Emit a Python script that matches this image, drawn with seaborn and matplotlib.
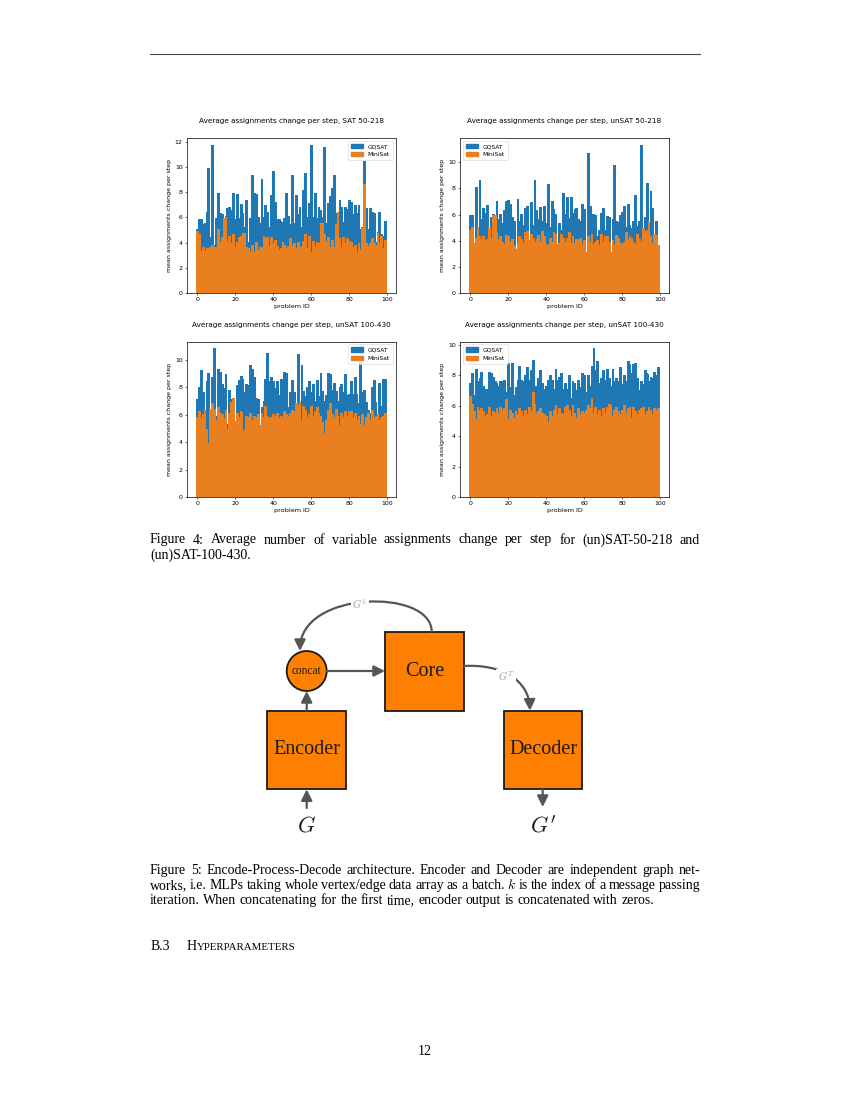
import matplotlib
matplotlib.use("Agg")
import matplotlib.pyplot as plt
import seaborn as sns
import numpy as np
from matplotlib.patches import Rectangle, Circle, FancyArrowPatch, Patch
from matplotlib.path import Path

# ---- data (problem ID 0..99) ----
problem_ids = list(range(100))

sat50_gqsat = [5.0, 5.85, 5.85, 5.4, 5.5, 6.4, 9.85, 4.4, 11.7, 3.8,
               5.9, 7.85, 6.3, 6.2, 5.6, 6.1, 6.7, 6.75, 6.5, 7.85,
               5.8, 7.8, 5.9, 7.0, 6.3, 5.2, 7.3, 4.0, 5.9, 9.35,
               7.9, 7.8, 6.0, 5.5, 9.0, 6.0, 6.9, 6.4, 5.2, 7.7,
               9.6, 7.2, 5.8, 5.8, 5.7, 5.6, 5.9, 7.9, 6.1, 5.4,
               9.35, 5.5, 7.7, 6.2, 6.8, 5.2, 8.1, 9.5, 6.0, 7.1,
               11.7, 6.0, 7.9, 5.9, 6.8, 6.5, 6.0, 11.5, 5.5, 7.1,
               7.65, 8.3, 9.3, 6.3, 5.8, 7.3, 6.8, 5.6, 6.8, 6.6,
               7.35, 7.2, 6.2, 6.9, 6.3, 6.9, 5.0, 5.2, 10.4, 6.7,
               5.0, 6.7, 6.4, 6.3, 4.0, 4.8, 6.4, 4.6, 4.5, 5.7]
sat50_minisat = [4.9, 4.6, 3.3, 3.6, 3.3, 3.5, 3.5, 3.6, 3.8, 3.6,
                 3.6, 5.0, 4.0, 4.4, 5.9, 6.0, 4.1, 4.5, 3.9, 4.6,
                 3.6, 4.0, 4.4, 4.5, 4.7, 4.7, 3.6, 3.5, 3.3, 3.8,
                 3.2, 4.0, 3.4, 3.6, 3.6, 4.5, 4.3, 4.4, 3.7, 4.4,
                 3.9, 4.2, 3.7, 3.4, 3.5, 4.0, 3.8, 3.5, 3.7, 4.3,
                 3.8, 3.9, 3.5, 4.0, 3.6, 3.7, 4.1, 4.6, 3.5, 4.5,
                 3.2, 4.1, 3.6, 4.0, 3.9, 5.5, 5.5, 4.6, 4.0, 4.4,
                 3.6, 4.2, 3.6, 5.4, 6.4, 4.3, 3.6, 4.4, 3.9, 4.3,
                 4.1, 4.0, 3.6, 3.8, 3.2, 3.9, 3.4, 5.1, 8.6, 3.9,
                 3.7, 3.9, 4.3, 3.9, 3.8, 4.7, 3.9, 4.5, 3.5, 4.2]

unsat50_gqsat = [5.95, 5.95, 3.8, 8.1, 5.0, 8.65, 5.6, 6.45, 6.1, 6.7,
                 4.9, 5.8, 6.0, 5.9, 7.0, 5.6, 6.0, 5.3, 6.3, 7.0,
                 7.1, 6.8, 5.8, 5.5, 3.3, 7.15, 5.5, 6.0, 5.2, 6.5,
                 6.65, 4.0, 6.9, 5.2, 8.6, 6.3, 5.6, 6.55, 5.5, 6.6,
                 5.3, 8.3, 5.0, 7.0, 6.4, 6.0, 3.7, 5.3, 4.8, 7.6,
                 6.0, 7.3, 5.7, 7.3, 6.1, 6.4, 6.5, 5.6, 5.5, 6.8,
                 6.4, 3.1, 10.7, 6.6, 6.0, 6.0, 5.9, 4.3, 4.8, 6.1,
                 6.5, 4.8, 5.85, 5.8, 3.1, 5.6, 9.75, 5.5, 5.4, 5.9,
                 6.2, 6.6, 5.0, 6.8, 5.2, 4.9, 5.5, 7.5, 5.1, 5.5,
                 11.3, 4.9, 5.8, 8.4, 5.1, 7.8, 6.5, 4.5, 5.5, 3.6]
unsat50_minisat = [4.8, 5.0, 3.8, 4.2, 5.0, 4.3, 4.1, 4.3, 4.0, 4.1,
                   4.9, 4.2, 5.9, 5.9, 4.6, 4.1, 4.3, 3.9, 3.7, 4.4,
                   4.3, 3.9, 4.1, 3.6, 3.3, 3.8, 4.3, 4.1, 3.8, 4.6,
                   4.7, 4.0, 4.5, 4.2, 3.9, 4.1, 4.4, 3.9, 4.7, 4.3,
                   3.7, 3.6, 4.2, 3.9, 4.6, 4.5, 3.7, 3.8, 4.5, 4.2,
                   3.9, 4.2, 4.6, 3.8, 4.3, 3.8, 4.1, 4.0, 4.2, 3.7,
                   4.0, 3.1, 4.3, 3.9, 4.5, 3.7, 3.9, 4.0, 3.6, 4.5,
                   3.9, 4.3, 4.3, 3.9, 3.1, 4.0, 3.6, 4.4, 4.2, 3.8,
                   3.7, 3.9, 4.6, 4.1, 4.3, 4.2, 3.9, 3.7, 4.5, 4.1,
                   3.9, 4.9, 4.7, 4.8, 5.4, 4.3, 3.8, 4.5, 4.4, 3.6]

unsat100a_gqsat = [7.1, 8.0, 9.2, 7.6, 6.3, 8.4, 9.0, 6.0, 8.7, 10.8,
                   5.9, 9.3, 9.1, 8.2, 7.9, 8.9, 5.3, 7.8, 7.1, 7.1,
                   5.4, 8.1, 8.5, 8.8, 8.6, 7.6, 8.2, 8.1, 9.6, 9.3,
                   8.7, 7.2, 7.1, 5.2, 6.5, 7.0, 8.6, 10.5, 8.4, 8.7,
                   8.4, 7.9, 8.4, 7.4, 8.6, 8.6, 9.1, 9.0, 6.5, 7.6,
                   8.5, 7.6, 6.5, 10.4, 5.3, 9.6, 7.7, 7.3, 8.0, 8.4,
                   7.6, 8.2, 7.0, 8.5, 7.3, 9.0, 7.7, 7.0, 7.4, 9.0,
                   8.9, 7.8, 8.3, 7.7, 7.0, 8.0, 8.2, 7.6, 8.9, 7.4,
                   7.5, 8.4, 7.5, 8.7, 7.5, 6.8, 9.8, 7.6, 7.8, 6.9,
                   6.3, 6.1, 8.0, 8.5, 6.9, 6.0, 8.3, 6.6, 8.6, 8.6]
unsat100a_minisat = [5.8, 6.2, 5.7, 6.0, 6.3, 4.9, 3.9, 6.4, 6.8, 6.4,
                     5.6, 6.5, 6.1, 6.0, 5.7, 6.3, 4.9, 6.1, 6.9, 7.2,
                     5.5, 6.1, 5.8, 6.2, 4.8, 4.9, 5.9, 5.8, 6.1, 5.6,
                     5.9, 5.8, 6.0, 5.2, 6.1, 5.8, 6.6, 5.9, 5.7, 5.8,
                     6.0, 5.9, 6.1, 5.7, 5.9, 5.8, 6.2, 6.0, 5.9, 6.1,
                     6.3, 6.2, 6.8, 6.7, 7.0, 5.6, 6.6, 6.3, 5.8, 6.0,
                     6.6, 5.9, 6.2, 6.5, 6.1, 5.9, 5.4, 4.6, 5.6, 6.3,
                     6.8, 6.0, 5.8, 6.4, 5.9, 5.2, 6.1, 5.8, 6.2, 5.9,
                     6.2, 6.2, 5.7, 6.1, 5.6, 5.9, 5.3, 6.0, 5.2, 5.8,
                     6.1, 5.6, 6.3, 5.7, 5.9, 6.0, 5.6, 5.8, 5.9, 6.1]

unsat100b_gqsat = [7.5, 8.1, 6.7, 8.4, 7.6, 7.8, 8.2, 7.3, 7.1, 7.1,
                   8.2, 8.1, 7.9, 7.6, 7.5, 7.3, 7.6, 7.6, 7.7, 6.9,
                   8.8, 7.2, 8.8, 6.7, 7.2, 7.7, 8.6, 7.7, 7.6, 8.0,
                   8.5, 7.7, 8.3, 9.0, 7.3, 7.3, 7.8, 8.3, 7.5, 7.1,
                   7.3, 7.7, 8.0, 7.7, 7.1, 8.4, 7.7, 7.9, 8.1, 7.1,
                   7.5, 7.1, 8.0, 6.5, 7.6, 7.5, 7.0, 7.7, 7.2, 8.1,
                   8.0, 6.9, 8.0, 7.3, 8.6, 9.75, 8.3, 8.9, 7.5, 7.8,
                   8.3, 7.7, 8.4, 7.8, 7.3, 8.4, 7.6, 7.8, 7.6, 8.5,
                   7.4, 8.0, 7.6, 8.9, 8.7, 8.1, 8.7, 8.8, 7.8, 7.0,
                   7.6, 7.4, 8.3, 8.1, 7.6, 7.9, 7.8, 8.2, 8.0, 8.5]
unsat100b_minisat = [6.6, 6.1, 5.6, 5.1, 5.9, 5.7, 5.8, 5.6, 5.3, 5.4,
                     5.9, 5.3, 5.6, 5.5, 5.8, 5.5, 5.9, 5.7, 5.8, 6.4,
                     5.1, 5.7, 5.5, 5.2, 5.6, 5.4, 5.8, 5.6, 5.3, 5.7,
                     5.4, 5.9, 5.6, 6.9, 6.1, 5.5, 5.6, 5.8, 5.5, 5.4,
                     5.3, 4.9, 5.6, 5.3, 5.7, 6.0, 5.4, 5.8, 5.5, 5.4,
                     5.9, 6.0, 5.7, 5.3, 6.0, 5.5, 5.2, 5.8, 5.4, 5.6,
                     5.5, 5.7, 6.0, 5.8, 6.5, 5.5, 5.9, 5.4, 5.7, 5.3,
                     5.8, 5.5, 5.9, 6.1, 6.0, 5.3, 5.7, 5.9, 5.6, 5.4,
                     5.7, 6.0, 5.5, 5.8, 5.9, 5.2, 5.9, 5.6, 5.4, 5.7,
                     5.8, 5.9, 5.4, 5.6, 5.9, 5.7, 5.4, 5.8, 5.7, 5.8]

titles = ["Average assignments change per step, SAT 50-218",
          "Average assignments change per step, unSAT 50-218",
          "Average assignments change per step, unSAT 100-430",
          "Average assignments change per step, unSAT 100-430"]
series_names = ["GQSAT", "MiniSat"]

caption4 = [
    "Figure 4:  Average number of variable assignments change per step for (un)SAT-50-218 and",
    "(un)SAT-100-430.",
]
caption5 = [
    "Figure 5: Encode-Process-Decode architecture.  Encoder and Decoder are independent graph net-",
    "works, i.e. MLPs taking whole vertex/edge data array as a batch. $k$ is the index of a message passing",
    "iteration. When concatenating for the first time, encoder output is concatenated with zeros.",
]

# ---- page setup ----
plt.rcParams['mathtext.fontset'] = 'cm'
W, H = 850, 1100
fig = plt.figure(figsize=(8.5, 11), dpi=100)
page = fig.add_axes([0, 0, 1, 1])
page.set_xlim(0, W)
page.set_ylim(H, 0)
page.axis('off')

SERIF = 'Liberation Serif'
BLUE = '#1f77b4'
ORANGE = '#ea7f20'


def px_rect(x0, y0, x1, y1):
    return [x0 / W, 1 - y1 / H, (x1 - x0) / W, (y1 - y0) / H]


panels = [
    (titles[0], sat50_gqsat, sat50_minisat, (187, 138, 396, 293), 'upper right'),
    (titles[1], unsat50_gqsat, unsat50_minisat, (460, 138, 669, 293), 'upper left'),
    (titles[2], unsat100a_gqsat, unsat100a_minisat, (187, 341.5, 396, 497), 'upper right'),
    (titles[3], unsat100b_gqsat, unsat100b_minisat, (460, 341.5, 669, 497), 'upper left'),
]

for title, gq, ms, box, loc in panels:
    ax = fig.add_axes(px_rect(*box))
    sns.barplot(x=problem_ids, y=gq, native_scale=True, color=BLUE, width=1.0,
                saturation=1, errorbar=None, ax=ax, linewidth=0)
    sns.barplot(x=problem_ids, y=ms, native_scale=True, color=ORANGE, width=1.0,
                saturation=1, errorbar=None, ax=ax, linewidth=0)
    for p in ax.patches:
        p.set_snap(False)
        p.set_antialiased(False)
    ax.set_xticks([0, 20, 40, 60, 80, 100])
    ax.set_title(title, fontsize=5.2, pad=10.5)
    ax.set_xlabel("problem ID", fontsize=4.6, labelpad=1.5)
    ax.set_ylabel("mean assignments change per step", fontsize=4.5, labelpad=2)
    ax.tick_params(labelsize=4.5, length=1.6, width=0.4, pad=1.5)
    for s in ax.spines.values():
        s.set_linewidth(0.5)
    handles = [Patch(color=BLUE), Patch(color=ORANGE)]
    leg = ax.legend(handles, series_names, loc=loc, fontsize=4.3,
                    handlelength=2, borderpad=0.5, labelspacing=0.5)
    leg.get_frame().set_linewidth(0.4)

# ---- header rule and page number ----
page.plot([150, 700], [54, 54], color='#444444', lw=0.8)
page.text(425, 1055, "12", ha='center', va='baseline', fontsize=10, family=SERIF)

# ---- justified caption text ----
renderer = fig.canvas.get_renderer()


def word_width(w, size):
    t = page.text(0, 0, w, fontsize=size, family=SERIF)
    wd = t.get_window_extent(renderer).width
    t.remove()
    return wd


def paragraph(lines, x0, x1, y0, lead, size=10):
    space = word_width("a b", size) - word_width("ab", size)
    for i, line in enumerate(lines):
        words = line.split()
        widths = [word_width(w, size) for w in words]
        last = i == len(lines) - 1
        if last or len(words) < 2:
            gap = space
        else:
            gap = (x1 - x0 - sum(widths)) / (len(words) - 1)
        x = x0
        for w, wd in zip(words, widths):
            page.text(x, y0 + i * lead, w, fontsize=size, family=SERIF,
                      ha='left', va='baseline')
            x += wd + gap


paragraph(caption4, 150, 700, 543.5, 15.2)
paragraph(caption5, 150, 700, 874, 15.2)

# section heading in small caps
page.text(151, 950, "B.3", fontsize=10, family=SERIF, va='baseline')
hw = word_width("H", 10)
page.text(186.7, 950, "H", fontsize=10, family=SERIF, va='baseline')
page.text(186.7 + hw, 950, "YPERPARAMETERS", fontsize=7.8, family=SERIF, va='baseline')

# ---- Encode-Process-Decode diagram ----
BOX = '#ff8000'
EDGE = '#1a1a1a'
ARROW = '#555555'

boxes = {
    "Encoder": (267.3, 710.7, 78.7, 78.6),
    "Core": (385, 631.7, 79, 79),
    "Decoder": (504, 710.7, 78.3, 78.6),
}
for name, (bx, by, bw, bh) in boxes.items():
    page.add_patch(Rectangle((bx, by), bw, bh, facecolor=BOX, edgecolor=EDGE, lw=1.3))
    page.text(bx + bw / 2, by + bh / 2, name, ha='center', va='center',
              fontsize=14.5, family=SERIF, color='#1a1a1a')

cx, cy, r = 306.7, 671, 20
page.add_patch(Circle((cx, cy), r, facecolor=BOX, edgecolor=EDGE, lw=1.3))
page.text(cx, cy, "concat", ha='center', va='center', fontsize=8.3, family=SERIF,
          color='#1a1a1a')

astyle = "-|>,head_length=0.6,head_width=0.3"


def arrow(p0, p1):
    page.add_patch(FancyArrowPatch(p0, p1, arrowstyle=astyle, mutation_scale=11,
                                   color=ARROW, lw=1.6, shrinkA=0, shrinkB=0))


def curve(verts):
    path = Path(verts, [Path.MOVETO, Path.CURVE4, Path.CURVE4, Path.CURVE4])
    page.add_patch(FancyArrowPatch(path=path, arrowstyle=astyle, mutation_scale=11,
                                   color=ARROW, lw=1.6))


arrow((cx, 808), (cx, 789.3))
arrow((cx, 710.7), (cx, cy + r))
arrow((cx + r, cy), (385, cy))
arrow((542.7, 789.3), (542.7, 807))
curve([(431.7, 631.7), (431.7, 588), (300, 590), (300, 651)])
curve([(464, 666), (502, 664), (529, 680), (530, 710.7)])

page.text(360, 604, r"$G^k$", ha='center', va='center', fontsize=7.5, color='#999999',
          bbox=dict(facecolor='white', edgecolor='none', pad=0.8))
page.text(506, 676.5, r"$G^T$", ha='center', va='center', fontsize=7.5, color='#999999',
          bbox=dict(facecolor='white', edgecolor='none', pad=0.8))
page.text(cx, 826, r"$G$", ha='center', va='center', fontsize=16, color='#1a1a1a')
page.text(542.7, 826, r"$G'$", ha='center', va='center', fontsize=16, color='#1a1a1a')

fig.savefig("out.png", dpi=100)
